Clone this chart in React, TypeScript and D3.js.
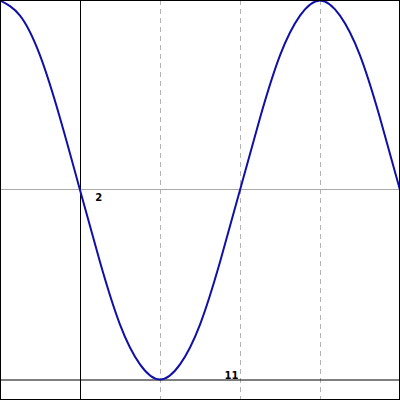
import { useEffect, useRef } from "react";
import * as d3 from "d3";

// curve samples (x in grid units, y in -1..1)
const xValues = [-1, -0.75, -0.5, -0.25, 0, 0.25, 0.5, 0.75, 1, 1.25, 1.5, 1.75, 2, 2.25, 2.5, 2.75, 3, 3.25, 3.5, 3.75, 4];
const yValues = [1, 0.92, 0.71, 0.38, 0, -0.38, -0.71, -0.92, -1, -0.92, -0.71, -0.38, 0, 0.38, 0.71, 0.92, 1, 0.92, 0.71, 0.38, 0];
const dashedGrid = [1, 2, 3];
const labels = [
  { text: "2", x: 0.19, y: -0.06, anchor: "start" },
  { text: "11", x: 1.98, y: -0.995, anchor: "end" },
];

export default function App() {
  const svgRef = useRef<SVGSVGElement>(null);

  useEffect(() => {
    if (!svgRef.current) return;
    const width = 400;
    const height = 400;
    const svg = d3.select(svgRef.current);
    svg.selectAll("*").remove();

    const x = d3.scaleLinear().domain([-1, 4]).range([0, width]);
    const y = d3.scaleLinear().domain([-1, 1]).range([379.5, 0.5]);

    svg.append("rect")
      .attr("width", width).attr("height", height)
      .attr("fill", "#fff");

    // dashed vertical grid
    svg.selectAll("line.grid")
      .data(dashedGrid)
      .enter()
      .append("line")
      .attr("class", "grid")
      .attr("x1", d => x(d) + 0.5).attr("x2", d => x(d) + 0.5)
      .attr("y1", 0).attr("y2", height)
      .attr("stroke", "#b4b4b4")
      .attr("stroke-dasharray", "5,4");

    // zero line
    svg.append("line")
      .attr("x1", 0).attr("x2", width)
      .attr("y1", Math.round(y(0)) - 0.5).attr("y2", Math.round(y(0)) - 0.5)
      .attr("stroke", "#aaaaaa");

    // axes
    svg.append("line")
      .attr("x1", x(0) + 0.5).attr("x2", x(0) + 0.5)
      .attr("y1", 0).attr("y2", height)
      .attr("stroke", "#000");
    svg.append("line")
      .attr("x1", 0).attr("x2", width)
      .attr("y1", y(-1) + 0.5).attr("y2", y(-1) + 0.5)
      .attr("stroke", "#000");

    const points = xValues.map((v, i) => [v, yValues[i]] as [number, number]);
    const line = d3.line<[number, number]>()
      .x(d => x(d[0]))
      .y(d => y(d[1]))
      .curve(d3.curveNatural);

    svg.append("path")
      .attr("d", line(points))
      .attr("fill", "none")
      .attr("stroke", "#1010a8")
      .attr("stroke-width", 2);

    svg.selectAll("text.lbl")
      .data(labels)
      .enter()
      .append("text")
      .attr("class", "lbl")
      .attr("x", d => x(d.x))
      .attr("y", d => y(d.y))
      .attr("text-anchor", d => d.anchor)
      .attr("font-family", "DejaVu Sans, Verdana, sans-serif")
      .attr("font-weight", "bold")
      .attr("font-size", 10)
      .attr("fill", "#000")
      .text(d => d.text);

    // border
    svg.append("rect")
      .attr("x", 0.5).attr("y", 0.5)
      .attr("width", width - 1).attr("height", height - 1)
      .attr("fill", "none")
      .attr("stroke", "#000");
  }, []);

  return (
    <div style={{ position: "fixed", left: 0, top: 0 }}>
      <svg ref={svgRef} width={400} height={400} style={{ display: "block" }}></svg>
    </div>
  );
}
